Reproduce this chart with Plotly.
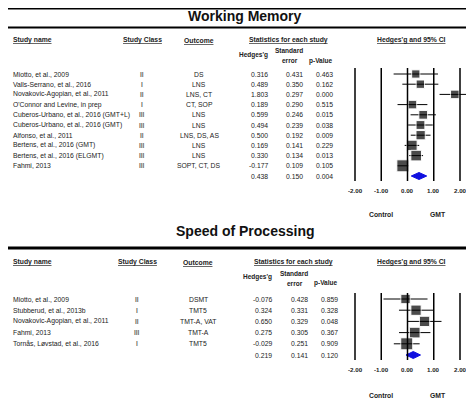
import plotly.graph_objects as go
import numpy as np

W, H = 474, 415
# ---- data ----
wm_studies = ["Miotto, et al., 2009", "Valls-Serrano, et al., 2016", "Novakovic-Agopian, et al., 2011",
              "O'Connor and Levine, in prep", "Cuberos-Urbano, et al., 2016 (GMT+L)", "Cuberos-Urbano, et al., 2016 (GMT)",
              "Alfonso, et al., 2011", "Bertens, et al., 2016 (GMT)", "Bertens, et al., 2016 (ELGMT)", "Fahmi, 2013"]
wm_class = ["II", "I", "II", "I", "III", "III", "II", "III", "III", "III"]
wm_outcome = ["DS", "LNS", "LNS, CT", "CT, SOP", "LNS", "LNS", "LNS, DS, AS", "LNS", "LNS", "SOPT, CT, DS"]
wm_g = [0.316, 0.489, 1.803, 0.189, 0.599, 0.494, 0.500, 0.169, 0.330, -0.177]
wm_se = [0.431, 0.350, 0.297, 0.290, 0.246, 0.239, 0.192, 0.141, 0.134, 0.109]
wm_p = ["0.463", "0.162", "0.000", "0.515", "0.015", "0.038", "0.009", "0.229", "0.013", "0.105"]
wm_sum = (0.438, 0.150, "0.004")

sp_studies = ["Miotto, et al., 2009", "Stubberud, et al., 2013b", "Novakovic-Agopian, et al., 2011",
              "Fahmi, 2013", "Tornås, Løvstad, et al., 2016"]
sp_class = ["II", "I", "II", "III", "I"]
sp_outcome = ["DSMT", "TMT5", "TMT-A, VAT", "TMT-A", "TMT5"]
sp_g = [-0.076, 0.324, 0.650, 0.275, -0.029]
sp_se = [0.428, 0.331, 0.329, 0.305, 0.251]
sp_p = ["0.859", "0.328", "0.048", "0.367", "0.909"]
sp_sum = (0.219, 0.141, "0.120")

ticks = [-2, -1, 0, 1, 2]
tick_labels = ["-2.00", "-1.00", "0.00", "1.00", "2.00"]

FONT = "Liberation Sans, Arial, sans-serif"
fig = go.Figure()
ann = []
shapes = []

def P(x, y):
    return x / W, 1 - y / H

def text(x, y, s, size=6.8, xanchor="left", color="#222", bold=False):
    px, py = P(x, y)
    if bold:
        s = "<b>" + s + "</b>"
    ann.append(dict(x=px, y=py, xref="paper", yref="paper", text=s, showarrow=False,
                    xanchor=xanchor, yanchor="middle", font=dict(family=FONT, size=size, color=color)))

def hline(y, w=3):
    shapes.append(dict(type="line", xref="paper", yref="paper", x0=0, x1=1,
                       y0=1 - y / H, y1=1 - y / H, line=dict(color="black", width=w)))

r0 = -2 - 11 / 26.25
r1 = r0 + 128 / 26.25
xdom = [336 / W, 464 / W]

def panel(idx, title, title_y, hdr_y, row0, dy, studies, cls, outc, g, se, p, summ, cols, tick_y, lab_y):
    xa = "x" if idx == 1 else "x2"
    ya = "y" if idx == 1 else "y2"
    text(W / 2, title_y, title, size=14, xanchor="center", color="#111", bold=True)
    cx, ox, gx, sx, pxx = cols
    text(3, hdr_y, "<u>Study name</u>", size=6.8, bold=True)
    text(cx, hdr_y, "<u>Study Class</u>", size=6.8, xanchor="center", bold=True)
    text(ox, hdr_y, "<u>Outcome</u>", size=6.8, xanchor="center", bold=True)
    text((gx + pxx) / 2 - 14, hdr_y, "<u>Statistics for each study</u>", size=6.8, xanchor="center", bold=True)
    text(403, hdr_y, "<u>Hedges'g and 95% CI</u>", size=6.8, xanchor="center", bold=True)
    text(gx, hdr_y + 15, "Hedges'g", size=6.5, xanchor="right", bold=True)
    text(sx, hdr_y + 11, "Standard", size=6.5, xanchor="right", bold=True)
    text(sx - 5, hdr_y + 21, "error", size=6.5, xanchor="right", bold=True)
    text(pxx, hdr_y + 21, "p-Value", size=6.5, xanchor="right", bold=True)
    n = len(studies)
    for i in range(n):
        y = row0 + i * dy
        text(3, y, studies[i])
        text(cx, y, cls[i], size=6.5, xanchor="center", color="#6a6a60", bold=True)
        text(ox, y, outc[i], xanchor="center")
        text(gx, y, f"{g[i]:.3f}", xanchor="right")
        text(sx, y, f"{se[i]:.3f}", xanchor="right")
        text(pxx, y, p[i], xanchor="right")
    ys = row0 + n * dy
    text(gx, ys, f"{summ[0]:.3f}", xanchor="right")
    text(sx, ys, f"{summ[1]:.3f}", xanchor="right")
    text(pxx, ys, summ[2], xanchor="right")
    top_px, bot_px = row0 - 8, ys + 6
    ydom = [1 - bot_px / H, 1 - top_px / H]
    layout_axes = {
        ("xaxis" if idx == 1 else "xaxis2"): dict(domain=xdom, range=[r0, r1], visible=False,
                                                  anchor=ya, fixedrange=True),
        ("yaxis" if idx == 1 else "yaxis2"): dict(domain=ydom, range=[bot_px, top_px], visible=False,
                                                  anchor=xa, fixedrange=True),
    }
    fig.update_layout(**layout_axes)
    for t in ticks:
        shapes.append(dict(type="line", xref=xa, yref=ya, x0=t, x1=t, y0=top_px + 2, y1=bot_px - 1,
                           line=dict(color="black", width=1.5)))
    w = 1 / np.array(se) ** 2
    sizes = 8 + 4 * w / w.max()
    ypos = [row0 + i * dy for i in range(n)]
    fig.add_trace(go.Scatter(x=g, y=ypos, xaxis=xa, yaxis=ya, mode="markers",
                             marker=dict(symbol="square", size=sizes, color="black"),
                             error_x=dict(type="data", array=[1.96 * s for s in se], color="black",
                                          thickness=1, width=0),
                             showlegend=False, hoverinfo="skip"))
    m, s = summ[0], summ[1]
    fig.add_trace(go.Scatter(x=[m - 1.96 * s, m, m + 1.96 * s, m, m - 1.96 * s],
                             y=[ys, ys - 3.5, ys, ys + 3.5, ys], xaxis=xa, yaxis=ya, mode="lines",
                             fill="toself", fillcolor="#1010e0", line=dict(color="#1010e0", width=1),
                             showlegend=False, hoverinfo="skip"))
    for t, lab in zip(ticks, tick_labels):
        px_ = 347 + (t + 2) * 26.25
        text(px_, tick_y, lab, size=6.2, xanchor="center", bold=True)
    text(373, lab_y, "Control", size=6.8, xanchor="center", bold=True)
    text(430, lab_y, "GMT", size=6.8, xanchor="center", bold=True)

hline(0.5, 2)
panel(1, "Working Memory", 8, 32, 66, 10.2, wm_studies, wm_class, wm_outcome, wm_g, wm_se, wm_p, wm_sum,
      (134, 191, 262, 297, 327), 182, 206)
panel(2, "Speed of Processing", 223, 254, 291, 11.2, sp_studies, sp_class, sp_outcome, sp_g, sp_se, sp_p, sp_sum,
      (129, 190, 266, 302, 332), 361, 387)
hline(19.5, 2)
hline(240, 3)
hline(413, 3)

fig.update_layout(width=W, height=H, margin=dict(l=0, r=0, t=0, b=0),
                  paper_bgcolor="white", plot_bgcolor="white",
                  annotations=ann, shapes=shapes)
fig.write_html("out.html")
